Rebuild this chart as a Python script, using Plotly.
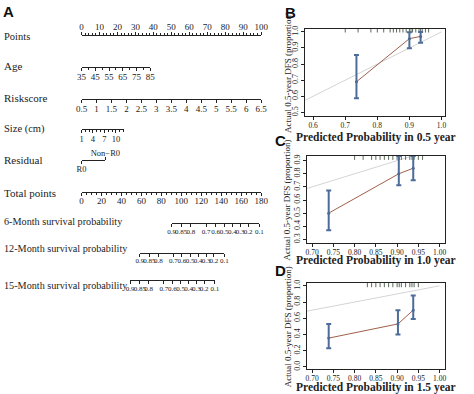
import plotly.graph_objects as go

W, H = 474, 394
SERIF = "Liberation Serif, Times New Roman, serif"
SANS = "Liberation Sans, Arial, sans-serif"
INK = "#222222"

# ---------------- Nomogram data (panel A) ----------------
points_ticks = list(range(0, 101, 10))
points_minor = list(range(0, 101, 2))
age_ticks = [35, 45, 55, 65, 75, 85]
age_minor = list(range(35, 86, 5))
risk_ticks = [0.5, 1, 1.5, 2, 2.5, 3, 3.5, 4, 4.5, 5, 5.5, 6, 6.5]
risk_labels = ["0.5", "1", "1.5", "2", "2.5", "3", "3.5", "4", "4.5", "5", "5.5", "6", "6.5"]
size_ticks = [1, 4, 7, 10]
size_minor = list(range(1, 13))
residual_levels = ["R0", "Non\u2212R0"]
total_ticks = list(range(0, 181, 20))
total_minor = list(range(0, 181, 5))
surv_labels = ["0.9", "0.85", "0.8", "0.7", "0.6", "0.5", "0.4", "0.3", "0.2", "0.1"]
surv6_points = [90.3, 99.9, 109.5, 124.8, 134.4, 143.0, 151.1, 159.0, 167.0, 178.2]
surv12_points = [58.4, 68.0, 76.9, 92.0, 100.6, 108.9, 116.9, 124.8, 132.5, 143.1]
surv15_points = [48.8, 58.4, 67.3, 82.4, 91.0, 99.3, 107.3, 115.2, 122.9, 133.5]

# ---------------- Calibration data (panels B, C, D) ----------------
B_pred = [0.735, 0.900, 0.935]
B_obs = [0.690, 0.958, 0.972]
B_lo = [0.587, 0.898, 0.933]
B_hi = [0.856, 0.998, 1.000]

C_pred = [0.739, 0.904, 0.938]
C_obs = [0.500, 0.800, 0.842]
C_lo = [0.370, 0.712, 0.750]
C_hi = [0.672, 0.935, 0.935]

D_pred = [0.739, 0.902, 0.938]
D_obs = [0.355, 0.530, 0.700]
D_lo = [0.230, 0.400, 0.590]
D_hi = [0.530, 0.700, 0.880]

rug_B = [0.70, 0.74, 0.78, 0.80, 0.82, 0.84, 0.85, 0.86, 0.87, 0.88, 0.89, 0.90, 0.905, 0.91, 0.92, 0.93, 0.935, 0.94, 0.95, 0.96]
rug_C = [0.80, 0.82, 0.84, 0.85, 0.86, 0.87, 0.88, 0.89, 0.90, 0.905, 0.91, 0.92, 0.93, 0.935, 0.94, 0.95, 0.96]
rug_D = [0.83, 0.84, 0.85, 0.86, 0.87, 0.88, 0.89, 0.90, 0.905, 0.91, 0.92, 0.93, 0.935, 0.94, 0.95]
ideal = [0.0, 1.0]

fig = go.Figure()
layout = dict(
    width=W, height=H, margin=dict(l=0, r=0, t=0, b=0),
    paper_bgcolor="white", plot_bgcolor="rgba(0,0,0,0)", showlegend=False,
    yaxis=dict(domain=[0, 1], range=[0, 1], visible=False, fixedrange=True),
)
annotations = []


def fx(px):
    return px / W


def fy(py):
    return 1 - py / H


axis_counter = [1]


def nomo_axis(x0, x1, ypx, rng, side, tickvals, ticktext, minor_vals=None, fs=8.5, ticklen=3):
    axis_counter[0] += 1
    n = axis_counter[0]
    ax = dict(
        domain=[fx(x0), fx(x1)], range=rng, anchor="free", position=fy(ypx), side=side,
        showline=True, linecolor=INK, linewidth=1, ticks="outside", ticklen=ticklen,
        tickwidth=1, tickcolor=INK, tickmode="array", tickvals=tickvals, ticktext=ticktext,
        tickfont=dict(family=SERIF, size=fs, color=INK), showgrid=False, zeroline=False,
        tickangle=0, fixedrange=True, ticklabelstandoff=-2,
    )
    if minor_vals is not None:
        ax["minor"] = dict(tickmode="array", tickvals=minor_vals, ticks="outside", ticklen=2,
                           tickwidth=1, tickcolor=INK, showgrid=False)
    layout["xaxis%d" % n] = ax
    fig.add_trace(go.Scatter(x=[rng[0]], y=[0.5], xaxis="x%d" % n, yaxis="y", mode="markers",
                             marker=dict(opacity=0), hoverinfo="skip"))
    return n


X0, X1 = 79, 267
nomo_axis(X0, X1, 31, [0, 100], "top", points_ticks, [str(v) for v in points_ticks], points_minor, fs=9)
nomo_axis(X0, 151, 64, [35, 85], "bottom", age_ticks, [str(v) for v in age_ticks], age_minor, fs=9)
nomo_axis(X0, X1, 96, [0.5, 6.5], "bottom", risk_ticks, risk_labels, None, fs=9)
nomo_axis(X0, 123, 127, [1, 12], "bottom", size_ticks, [str(v) for v in size_ticks], size_minor, fs=8.5)
nomo_axis(X0, 104, 158, [0, 1], "bottom", [0], [residual_levels[0]], None, fs=8.5)
nomo_axis(X0, 104, 158, [0, 1], "top", [1], [residual_levels[1]], None, fs=8.5)
nomo_axis(X0, X1, 190, [0, 180], "bottom", total_ticks, [str(v) for v in total_ticks], total_minor, fs=9)


def tp_px(p):
    return X0 + (X1 - X0) * p / 180.0


for pts, ypx in ((surv6_points, 222), (surv12_points, 252), (surv15_points, 280)):
    nomo_axis(tp_px(pts[0]), tp_px(pts[-1]), ypx, [pts[0], pts[-1]], "bottom", pts, surv_labels, None, fs=7)

row_labels = [
    ("Points", 33, 10.5), ("Age", 63, 11), ("Riskscore", 95, 11), ("Size (cm)", 127, 10.5),
    ("Residual", 158, 11), ("Total points", 191, 11), ("6-Month survival probability", 220, 10.2),
    ("12-Month survival probability", 248, 10.2), ("15-Month survival probability", 285, 10.2),
]
for txt, ypx, fs in row_labels:
    annotations.append(dict(x=fx(-4), y=fy(ypx), xref="paper", yref="paper", text=txt, showarrow=False,
                            xanchor="left", yanchor="middle", font=dict(family=SERIF, size=fs, color=INK)))

# ---------------- Calibration panels ----------------
panels = [
    dict(pred=B_pred, obs=B_obs, lo=B_lo, hi=B_hi, rug=rug_B, box=(313, 459, 25, 113),
         xr=[0.575, 1.01], yr=[0.48, 1.02], xt=[0.6, 0.7, 0.8, 0.9, 1.0], xfmt="%.1f",
         yt=[0.5, 0.6, 0.7, 0.8, 0.9, 1.0], yfmt="%.1f", title="Predicted Probability in 0.5 year",
         ty=135, letter="B", lx=290, ly=9),
    dict(pred=C_pred, obs=C_obs, lo=C_lo, hi=C_hi, rug=rug_C, box=(315, 459, 154, 242),
         xr=[0.688, 1.012], yr=[0.273, 0.935], xt=[0.70, 0.75, 0.80, 0.85, 0.90, 0.95, 1.00], xfmt="%.2f",
         yt=[0.3, 0.4, 0.5, 0.6, 0.7, 0.8, 0.9], yfmt="%.1f", title="Predicted Probability in 1.0 year",
         ty=260, letter="C", lx=279, ly=138),
    dict(pred=D_pred, obs=D_obs, lo=D_lo, hi=D_hi, rug=rug_D, box=(315, 459, 283, 370),
         xr=[0.688, 1.012], yr=[-0.03, 1.03], xt=[0.70, 0.75, 0.80, 0.85, 0.90, 0.95, 1.00], xfmt="%.2f",
         yt=[0.0, 0.2, 0.4, 0.6, 0.8, 1.0], yfmt="%.1f", title="Predicted Probability in 1.5 year",
         ty=388, letter="D", lx=279, ly=270),
]

for i, p in enumerate(panels):
    axis_counter[0] += 1
    n = axis_counter[0]
    ny = i + 2
    x0, x1, y0, y1 = p["box"]
    layout["xaxis%d" % n] = dict(
        domain=[fx(x0), fx(x1)], range=p["xr"], anchor="y%d" % ny, showline=True, mirror=True,
        linecolor=INK, linewidth=1, ticks="outside", ticklen=3, tickcolor=INK, tickmode="array",
        tickvals=p["xt"], ticktext=[p["xfmt"] % v for v in p["xt"]],
        tickfont=dict(family=SERIF, size=7.5, color=INK), showgrid=False, zeroline=False,
        tickangle=0, fixedrange=True, ticklabelstandoff=-1,
    )
    layout["yaxis%d" % ny] = dict(
        domain=[fy(y1), fy(y0)], range=p["yr"], anchor="x%d" % n, showline=True, mirror=True,
        linecolor=INK, linewidth=1, ticks="outside", ticklen=3, tickcolor=INK, tickmode="array",
        tickvals=p["yt"], ticktext=[p["yfmt"] % v for v in p["yt"]],
        tickfont=dict(family=SERIF, size=8, color=INK), showgrid=False, zeroline=False,
        tickangle=-90, fixedrange=True, ticklabelstandoff=0,
    )
    xa, ya = "x%d" % n, "y%d" % ny
    # ideal diagonal
    fig.add_trace(go.Scatter(x=ideal, y=ideal, xaxis=xa, yaxis=ya, mode="lines",
                             line=dict(color="#d4d4d4", width=1), hoverinfo="skip"))
    # rug of predicted risks along the top edge
    ytop = p["yr"][1] - 0.02 * (p["yr"][1] - p["yr"][0])
    fig.add_trace(go.Scatter(x=p["rug"], y=[ytop] * len(p["rug"]), xaxis=xa, yaxis=ya,
                             mode="markers", cliponaxis=False,
                             marker=dict(symbol="line-ns", size=3, line=dict(color="#5a6a5a", width=1)),
                             hoverinfo="skip"))
    # observed vs predicted with CI
    fig.add_trace(go.Scatter(
        x=p["pred"], y=p["obs"], xaxis=xa, yaxis=ya, mode="lines+markers",
        line=dict(color="#a0604a", width=1),
        marker=dict(color="#4a6a9a", size=3),
        error_y=dict(type="data", symmetric=False,
                     array=[h - o for h, o in zip(p["hi"], p["obs"])],
                     arrayminus=[o - l for o, l in zip(p["obs"], p["lo"])],
                     color="#4d6c99", thickness=2, width=2.5),
        hoverinfo="skip"))
    cy = (y0 + y1) / 2
    annotations.append(dict(x=fx(295), y=fy(cy), xref="paper", yref="paper",
                            text="Actual 0.5-year DFS (proportion)", textangle=-90, showarrow=False,
                            xanchor="center", yanchor="middle", font=dict(family=SERIF, size=9, color=INK)))
    annotations.append(dict(x=fx(387), y=fy(p["ty"]), xref="paper", yref="paper",
                            text="<b>%s</b>" % p["title"], showarrow=False, xanchor="center",
                            yanchor="middle", font=dict(family=SERIF, size=11.5, color=INK)))
    annotations.append(dict(x=fx(p["lx"]), y=fy(p["ly"]), xref="paper", yref="paper",
                            text="<b>%s</b>" % p["letter"], showarrow=False, xanchor="left",
                            yanchor="middle", font=dict(family=SANS, size=15, color="#111111")))

annotations.append(dict(x=fx(-5), y=fy(8), xref="paper", yref="paper", text="<b>A</b>", showarrow=False,
                        xanchor="left", yanchor="middle", font=dict(family=SANS, size=15, color="#111111")))

layout["annotations"] = annotations
fig.update_layout(**layout)
fig.write_html("out.html")
